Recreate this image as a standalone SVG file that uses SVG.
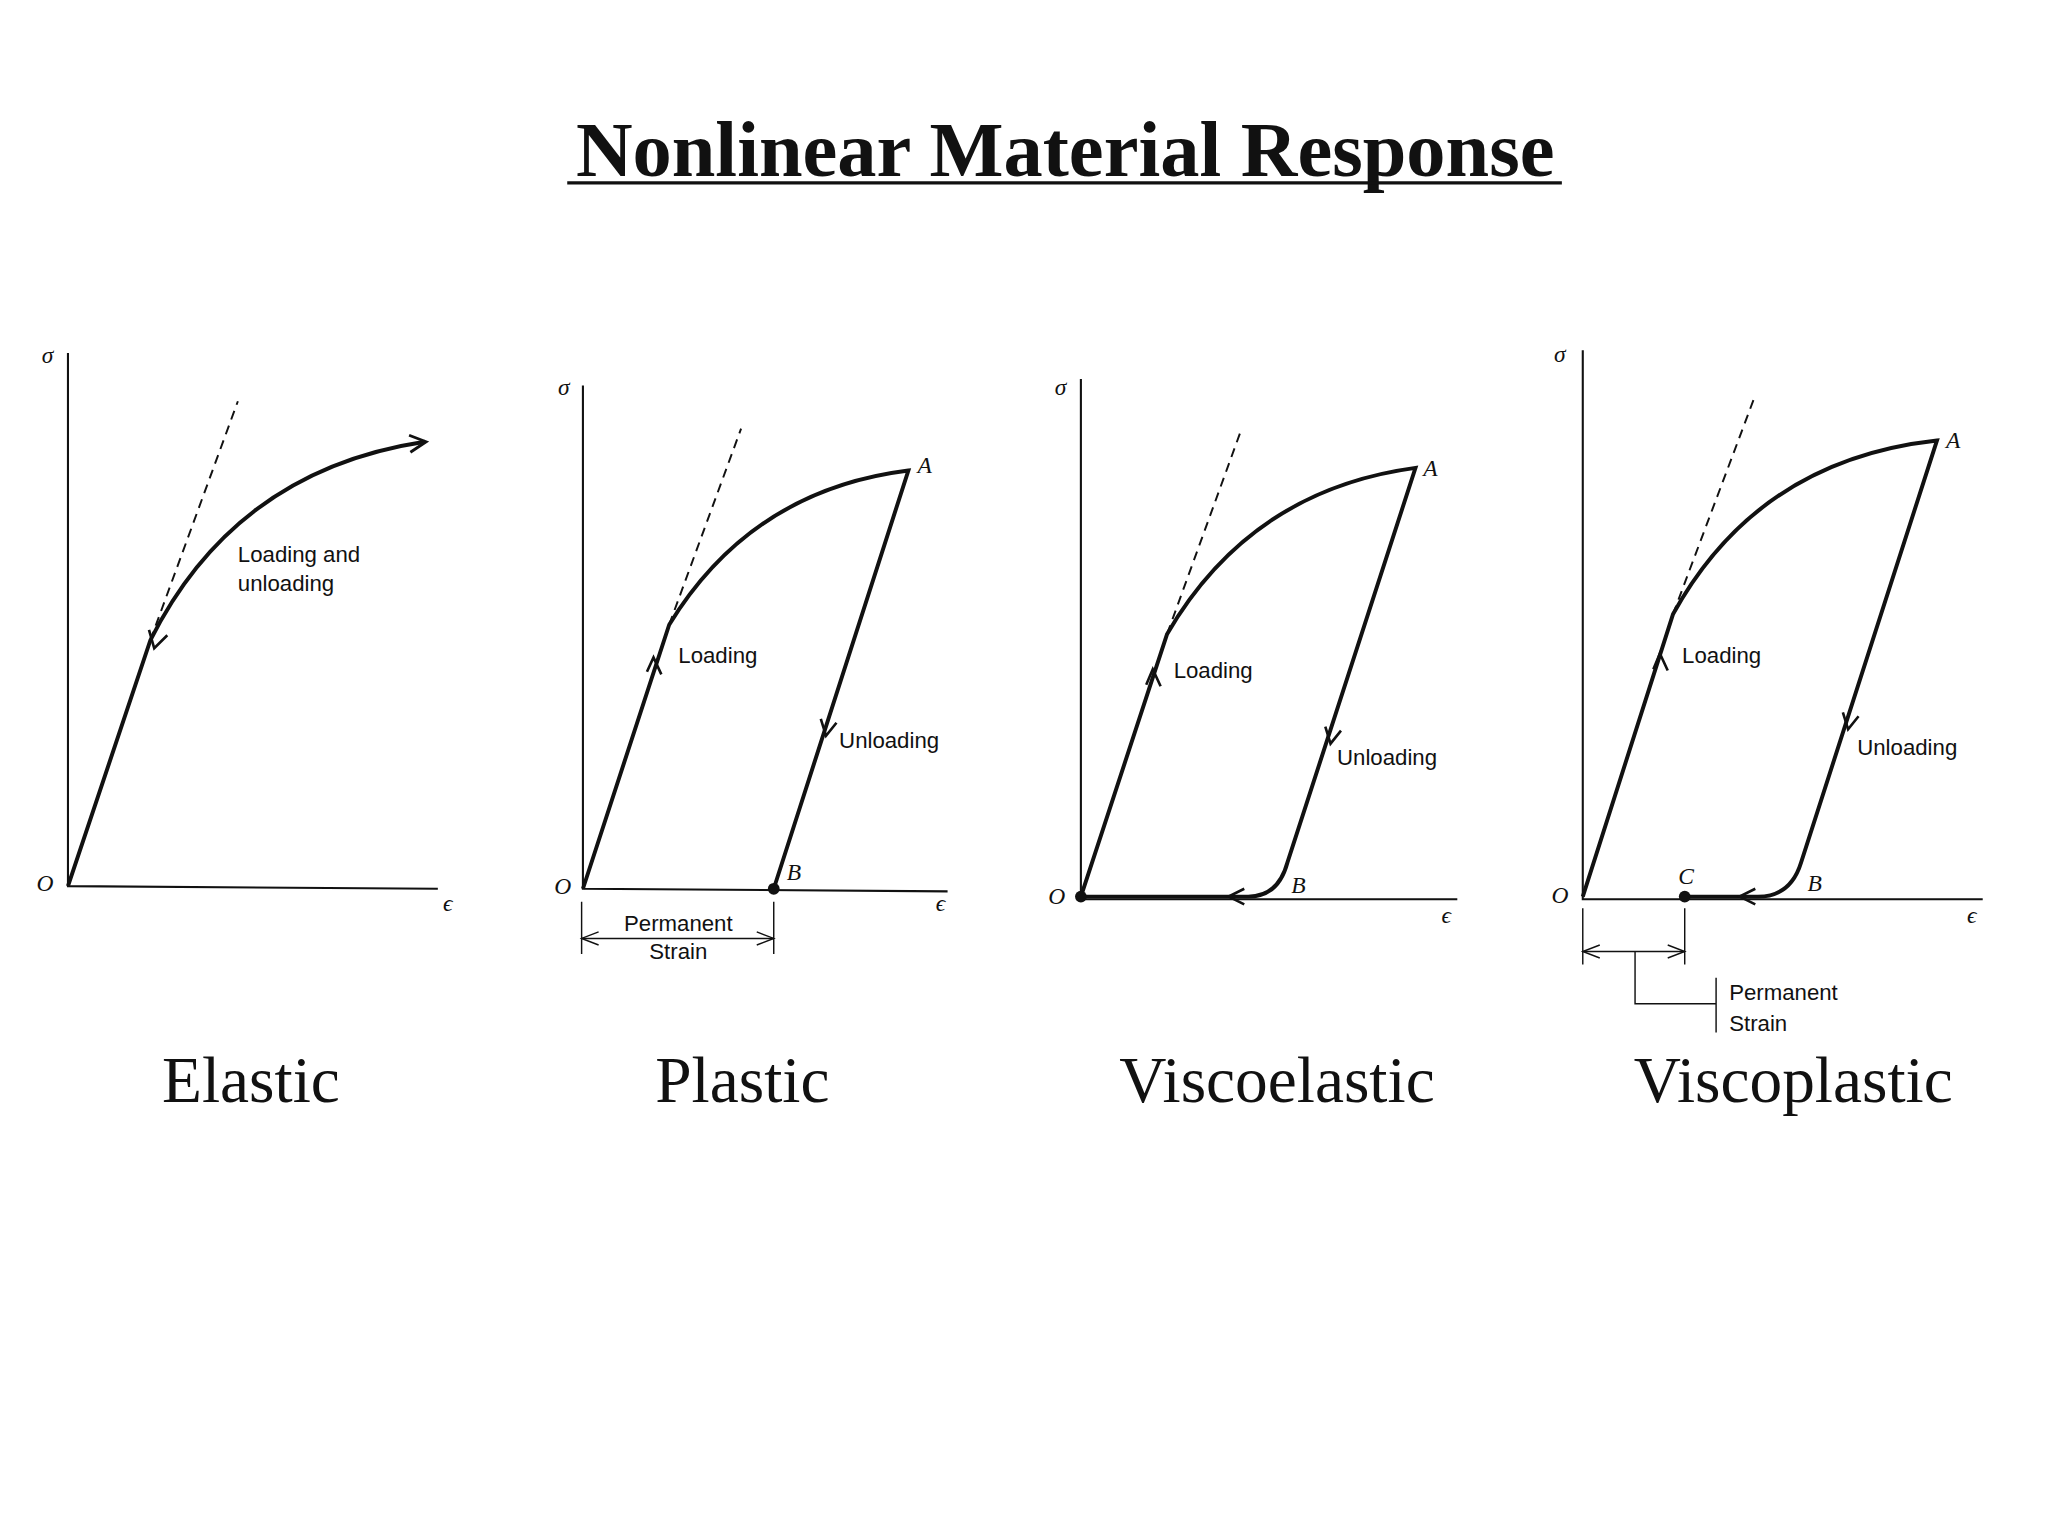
<svg xmlns="http://www.w3.org/2000/svg" width="2048" height="1536" viewBox="0 0 2048 1536">
<defs>
<style>
.ax{stroke:#111;stroke-width:1.6;fill:none}
.cv{stroke:#111;stroke-width:3;fill:none}
.ds{stroke:#111;stroke-width:1.5;fill:none;stroke-dasharray:7,5}
.th{stroke:#111;stroke-width:1.1;fill:none}
.lb{font-family:"Liberation Sans",Arial,sans-serif;font-size:17px;fill:#111}
.it{font-family:"Liberation Serif",serif;font-style:italic;font-size:18px;fill:#111}
.big{font-family:"Liberation Serif",serif;font-size:50px;fill:#111;text-anchor:middle}
</style>
</defs>
<g transform="scale(1.307)">
<text x="815" y="135" font-family="Liberation Serif,serif" font-weight="bold" font-size="60" text-anchor="middle" fill="#111">Nonlinear Material Response</text>
<line x1="434" y1="140" x2="1195" y2="140" stroke="#111" stroke-width="2.5"/>

<g id="elastic">
<path class="ax" d="M52,270 V678 L335,680"/>
<path class="cv" d="M52,678 L115,490 Q180,360 325,338"/>
<path d="M313,333 L326,338 L314,346" fill="none" stroke="#111" stroke-width="2.2"/>
<path d="M114,482 L118,496 L128,486" fill="none" stroke="#111" stroke-width="2"/>
<path class="ds" d="M115,490 L182,307"/>
<text class="lb" x="182" y="430">Loading and</text>
<text class="lb" x="182" y="452">unloading</text>
<text class="it" x="32" y="278">σ</text>
<text class="it" x="28" y="682">O</text>
<text class="it" x="339" y="697" font-size="14">ϵ</text>
<text class="big" x="192" y="843">Elastic</text>
</g>

<g id="plastic">
<path class="ax" d="M446,295 V680 L725,682"/>
<path class="cv" d="M446,680 L512,478 Q575,375 695,360 L592,680"/>
<path d="M495,514 L500,503 L506,516" fill="none" stroke="#111" stroke-width="2"/>
<path d="M628,550 L632,563 L640,553" fill="none" stroke="#111" stroke-width="2"/>
<circle cx="592" cy="680" r="4.5" fill="#111"/>
<path class="ds" d="M512,478 L567,328"/>
<text class="lb" x="519" y="507">Loading</text>
<text class="lb" x="642" y="572">Unloading</text>
<text class="it" x="702" y="362">A</text>
<text class="it" x="602" y="673">B</text>
<text class="it" x="424" y="684">O</text>
<text class="it" x="427" y="302">σ</text>
<text class="it" x="716" y="697" font-size="14">ϵ</text>
<path class="th" d="M445,690 V730 M592,690 V730 M445,718 H592"/>
<path d="M458,713 L445,718 L458,723 M579,713 L592,718 L579,723" fill="none" stroke="#111" stroke-width="1.1"/>
<text class="lb" x="519" y="712" text-anchor="middle">Permanent</text>
<text class="lb" x="519" y="734" text-anchor="middle">Strain</text>
<text class="big" x="568" y="843">Plastic</text>
</g>

<g id="viscoelastic">
<path class="ax" d="M827,290 V688 L1115,688"/>
<path class="cv" d="M827,686 L893,485 Q957,375 1083,358 L985,660 Q978,686 955,686 L827,686"/>
<path d="M877,524 L882,512 L888,525" fill="none" stroke="#111" stroke-width="2"/>
<path d="M1014,556 L1018,569 L1026,559" fill="none" stroke="#111" stroke-width="2"/>
<path d="M952,680 L940,686 L952,692" fill="none" stroke="#111" stroke-width="2"/>
<circle cx="827" cy="686" r="4.5" fill="#111"/>
<path class="ds" d="M893,485 L950,328"/>
<text class="lb" x="898" y="519">Loading</text>
<text class="lb" x="1023" y="585">Unloading</text>
<text class="it" x="1089" y="364">A</text>
<text class="it" x="988" y="683">B</text>
<text class="it" x="802" y="692">O</text>
<text class="it" x="807" y="302">σ</text>
<text class="it" x="1103" y="706" font-size="14">ϵ</text>
<text class="big" x="977" y="843">Viscoelastic</text>
</g>

<g id="viscoplastic">
<path class="ax" d="M1211,268 V688 L1517,688"/>
<path class="cv" d="M1211,686 L1280,470 Q1345,352 1482,337 L1378,660 Q1370,686 1345,686 L1289,686"/>
<path d="M1265,512 L1270,500 L1276,513" fill="none" stroke="#111" stroke-width="2"/>
<path d="M1410,545 L1414,558 L1422,548" fill="none" stroke="#111" stroke-width="2"/>
<path d="M1343,680 L1331,686 L1343,692" fill="none" stroke="#111" stroke-width="2"/>
<circle cx="1289" cy="686" r="4.5" fill="#111"/>
<path class="ds" d="M1280,470 L1342,305"/>
<text class="lb" x="1287" y="507">Loading</text>
<text class="lb" x="1421" y="578">Unloading</text>
<text class="it" x="1489" y="343">A</text>
<text class="it" x="1383" y="682">B</text>
<text class="it" x="1284" y="676">C</text>
<text class="it" x="1187" y="691">O</text>
<text class="it" x="1189" y="277">σ</text>
<text class="it" x="1505" y="706" font-size="14">ϵ</text>
<path class="th" d="M1211,695 V738 M1289,695 V738 M1211,728 H1289 M1251,728 V768 H1313 M1313,748 V790"/>
<path d="M1224,723 L1211,728 L1224,733 M1276,723 L1289,728 L1276,733" fill="none" stroke="#111" stroke-width="1.1"/>
<text class="lb" x="1323" y="765">Permanent</text>
<text class="lb" x="1323" y="789">Strain</text>
<text class="big" x="1372" y="843">Viscoplastic</text>
</g>
</g>
</svg>
